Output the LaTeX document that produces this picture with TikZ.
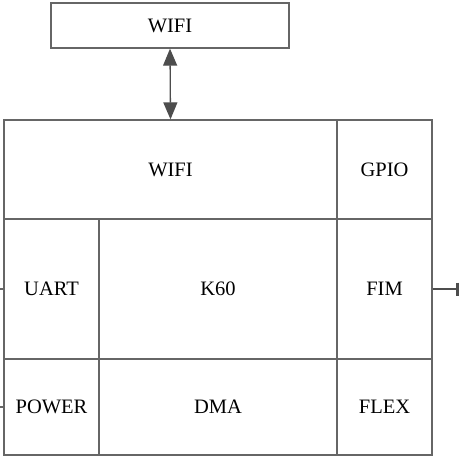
\documentclass[tikz,border=0pt]{standalone}
\usepackage{fontspec}
\setmainfont{Liberation Serif}
\usetikzlibrary{arrows.meta}
\definecolor{edge}{HTML}{666666}
\definecolor{tip}{HTML}{4D4D4D}
\tikzset{
  cell/.style={draw=edge, line width=1.3pt, inner sep=0pt, font=\fontsize{20.5}{24}\selectfont},
  conn/.style={draw=edge, line width=1.3pt},
}
\begin{document}
\begin{tikzpicture}[x=1pt,y=-1pt]
\useasboundingbox (0,0) rectangle (460,460);
\node[cell, minimum width=238pt, minimum height=45pt] (wifitop) at (170,25.5) {WIFI};
\node[cell, minimum width=333pt, minimum height=99pt] (wifi) at (170.5,169.5) {WIFI};
\node[cell, minimum width=95pt, minimum height=99pt] (gpio) at (384.5,169.5) {GPIO};
\node[cell, minimum width=95pt, minimum height=140pt] (uart) at (51.5,289) {UART};
\node[cell, minimum width=238pt, minimum height=140pt] (k60) at (218,289) {K60};
\node[cell, minimum width=95pt, minimum height=140pt] (fim) at (384.5,289) {FIM};
\node[cell, minimum width=95pt, minimum height=96pt] (power) at (51.5,407) {POWER};
\node[cell, minimum width=238pt, minimum height=96pt] (dma) at (218,407) {DMA};
\node[cell, minimum width=95pt, minimum height=96pt] (flex) at (384.5,407) {FLEX};
\draw[draw=tip, line width=1.3pt, {Triangle[length=17pt,width=14pt,fill=tip]}-{Triangle[length=17pt,width=14pt,fill=tip]}] (wifitop.south) -- (wifi.north);
\coordinate (l1) at (0,289);
\coordinate (l2) at (0,407);
\coordinate (r1) at (459,289);
\draw[conn] (l1) -- (uart.west);
\draw[conn] (l2) -- (power.west);
\draw[conn, -{Bar[width=13pt,line width=3pt]}, tip] (fim.east) -- (r1);
\end{tikzpicture}
\end{document}
